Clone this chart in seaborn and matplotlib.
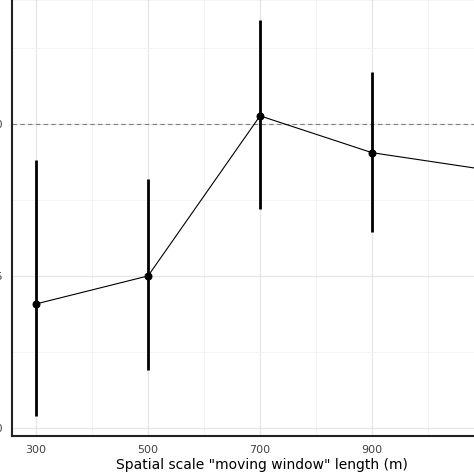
import matplotlib
matplotlib.use("Agg")
import matplotlib.pyplot as plt
import seaborn as sns
import pandas as pd

scale = [300, 500, 700, 900, 1100]
estimate = [0.408, 0.50, 1.026, 0.905, 0.85]
lower = [0.04, 0.19, 0.72, 0.645, 0.55]
upper = [0.88, 0.82, 1.34, 1.17, 1.15]

df = pd.DataFrame({"scale": scale, "estimate": estimate})

sns.set_style("whitegrid")
fig = plt.figure(figsize=(4.74, 4.74), dpi=100)
ax = fig.add_axes([12 / 474, 38 / 474, 500 / 474, 437 / 474])

for x, lo, hi in zip(scale, lower, upper):
    ax.vlines(x, lo, hi, color="black", lw=2.0, zorder=3)
sns.lineplot(data=df, x="scale", y="estimate", color="black", lw=0.8,
             marker="o", markersize=5, markeredgecolor="black", ax=ax, zorder=4)
ax.axhline(1.0, color="grey", ls=(0, (4, 3)), lw=0.8, zorder=2)

ax.set_xlim(257, 1150)
ax.set_ylim(-0.026, 1.41)
ax.set_xticks([300, 500, 700, 900])
ax.set_xticks([400, 600, 800, 1000], minor=True)
ax.set_yticks([0.0, 0.5, 1.0])
ax.set_yticks([0.25, 0.75, 1.25], minor=True)
ax.set_yticklabels(["0.0", "0.5", "1.0"])
ax.grid(which="major", color="#e6e6e6", lw=0.9)
ax.grid(which="minor", color="#f2f2f2", lw=0.6)
ax.tick_params(axis="both", labelsize=8, colors="#444444", length=3)
ax.tick_params(axis="both", which="minor", length=0)
for s in ax.spines.values():
    s.set_color("#222222")
    s.set_linewidth(1.5)
ax.set_xlabel('Spatial scale "moving window" length (m)', fontsize=10, color="black", labelpad=2)
ax.set_ylabel("")

fig.savefig("out.png", dpi=100)
